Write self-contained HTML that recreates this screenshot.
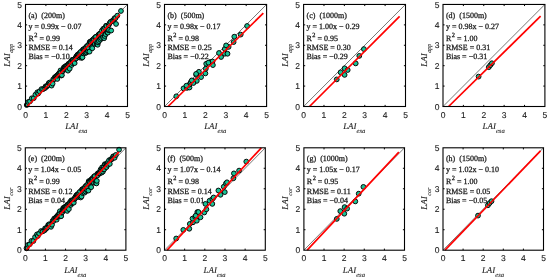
<!DOCTYPE html><html><head><meta charset="utf-8"><style>html,body{margin:0;padding:0;background:#fff;overflow:hidden}svg{display:block}text{text-rendering:geometricPrecision}.tk{font-family:"Liberation Sans",Arial,sans-serif;font-size:8.50px;fill:#1a1a1a;stroke:#1a1a1a;stroke-width:0.1px}.an{font-family:"Liberation Serif","Times New Roman",serif;font-size:8.00px;fill:#1e1e1e;stroke:#1e1e1e;stroke-width:0.28px}.lb{font-family:"Liberation Serif","Times New Roman",serif;font-style:italic;fill:#1a1a1a;stroke:#1a1a1a;stroke-width:0.1px}.lb2{font-family:"Liberation Serif","Times New Roman",serif;font-style:italic;fill:#1a1a1a;stroke:#1a1a1a;stroke-width:1px}</style></head><body>
<svg width="550" height="280" viewBox="0 0 550 280">
<g><line x1="25.50" y1="106.50" x2="127.50" y2="4.45" stroke="#555" stroke-width="0.8"/><g fill="#18c496" stroke="#000" stroke-width="0.95"><circle cx="26.72" cy="105.03" r="2.40"/><circle cx="28.29" cy="102.01" r="2.40"/><circle cx="30.00" cy="101.35" r="2.40"/><circle cx="31.76" cy="98.31" r="2.40"/><circle cx="33.70" cy="98.19" r="2.40"/><circle cx="35.40" cy="94.71" r="2.40"/><circle cx="37.31" cy="92.31" r="2.40"/><circle cx="38.20" cy="93.53" r="2.40"/><circle cx="39.59" cy="91.32" r="2.40"/><circle cx="41.52" cy="89.06" r="2.40"/><circle cx="43.12" cy="89.18" r="2.40"/><circle cx="45.01" cy="88.11" r="2.40"/><circle cx="45.57" cy="86.36" r="2.40"/><circle cx="46.36" cy="86.73" r="2.40"/><circle cx="47.02" cy="86.09" r="2.40"/><circle cx="47.86" cy="85.31" r="2.40"/><circle cx="48.72" cy="83.24" r="2.40"/><circle cx="49.22" cy="83.12" r="2.40"/><circle cx="49.85" cy="82.41" r="2.40"/><circle cx="50.53" cy="83.49" r="2.40"/><circle cx="51.61" cy="85.63" r="2.40"/><circle cx="52.60" cy="83.56" r="2.40"/><circle cx="53.20" cy="79.30" r="2.40"/><circle cx="54.21" cy="79.19" r="2.40"/><circle cx="54.79" cy="77.23" r="2.40"/><circle cx="55.68" cy="76.99" r="2.40"/><circle cx="56.25" cy="76.46" r="2.40"/><circle cx="56.50" cy="76.50" r="2.40"/><circle cx="57.03" cy="75.49" r="2.40"/><circle cx="57.34" cy="78.96" r="2.40"/><circle cx="57.65" cy="75.68" r="2.40"/><circle cx="58.22" cy="74.68" r="2.40"/><circle cx="58.75" cy="73.66" r="2.40"/><circle cx="59.09" cy="74.32" r="2.40"/><circle cx="59.65" cy="73.36" r="2.40"/><circle cx="60.07" cy="72.38" r="2.40"/><circle cx="60.53" cy="70.40" r="2.40"/><circle cx="60.85" cy="72.40" r="2.40"/><circle cx="61.40" cy="75.53" r="2.40"/><circle cx="61.87" cy="75.15" r="2.40"/><circle cx="62.43" cy="71.37" r="2.40"/><circle cx="62.96" cy="70.89" r="2.40"/><circle cx="63.31" cy="69.37" r="2.40"/><circle cx="63.67" cy="68.52" r="2.40"/><circle cx="63.97" cy="67.27" r="2.40"/><circle cx="64.26" cy="68.90" r="2.40"/><circle cx="64.53" cy="67.42" r="2.40"/><circle cx="64.87" cy="68.01" r="2.40"/><circle cx="65.31" cy="66.65" r="2.40"/><circle cx="65.56" cy="67.31" r="2.40"/><circle cx="66.02" cy="66.05" r="2.40"/><circle cx="66.38" cy="65.73" r="2.40"/><circle cx="66.72" cy="67.33" r="2.40"/><circle cx="67.24" cy="66.13" r="2.40"/><circle cx="67.64" cy="65.29" r="2.40"/><circle cx="67.99" cy="70.67" r="2.40"/><circle cx="68.39" cy="63.83" r="2.40"/><circle cx="68.86" cy="64.00" r="2.40"/><circle cx="69.13" cy="64.29" r="2.40"/><circle cx="69.69" cy="68.66" r="2.40"/><circle cx="69.94" cy="63.49" r="2.40"/><circle cx="70.43" cy="62.71" r="2.40"/><circle cx="70.95" cy="61.37" r="2.40"/><circle cx="71.20" cy="62.40" r="2.40"/><circle cx="71.70" cy="64.97" r="2.40"/><circle cx="72.07" cy="59.99" r="2.40"/><circle cx="72.50" cy="63.14" r="2.40"/><circle cx="72.75" cy="59.97" r="2.40"/><circle cx="73.01" cy="60.59" r="2.40"/><circle cx="73.31" cy="60.10" r="2.40"/><circle cx="73.87" cy="61.99" r="2.40"/><circle cx="74.18" cy="61.81" r="2.40"/><circle cx="74.67" cy="63.12" r="2.40"/><circle cx="75.22" cy="58.60" r="2.40"/><circle cx="75.77" cy="57.40" r="2.40"/><circle cx="76.13" cy="58.49" r="2.40"/><circle cx="76.49" cy="56.28" r="2.40"/><circle cx="76.91" cy="56.19" r="2.40"/><circle cx="77.40" cy="55.14" r="2.40"/><circle cx="77.68" cy="54.75" r="2.40"/><circle cx="78.17" cy="54.52" r="2.40"/><circle cx="78.68" cy="54.32" r="2.40"/><circle cx="79.20" cy="53.86" r="2.40"/><circle cx="79.46" cy="57.47" r="2.40"/><circle cx="80.01" cy="52.64" r="2.40"/><circle cx="80.29" cy="53.06" r="2.40"/><circle cx="80.64" cy="56.73" r="2.40"/><circle cx="81.09" cy="51.49" r="2.40"/><circle cx="81.63" cy="57.97" r="2.40"/><circle cx="81.99" cy="56.63" r="2.40"/><circle cx="82.53" cy="57.28" r="2.40"/><circle cx="82.96" cy="49.67" r="2.40"/><circle cx="83.30" cy="49.38" r="2.40"/><circle cx="83.65" cy="53.40" r="2.40"/><circle cx="83.96" cy="49.50" r="2.40"/><circle cx="84.23" cy="48.91" r="2.40"/><circle cx="84.52" cy="52.37" r="2.40"/><circle cx="84.99" cy="48.61" r="2.40"/><circle cx="85.56" cy="53.04" r="2.40"/><circle cx="85.86" cy="47.64" r="2.40"/><circle cx="86.12" cy="47.04" r="2.40"/><circle cx="86.68" cy="52.36" r="2.40"/><circle cx="87.10" cy="45.93" r="2.40"/><circle cx="87.48" cy="45.97" r="2.40"/><circle cx="87.80" cy="51.09" r="2.40"/><circle cx="88.24" cy="51.22" r="2.40"/><circle cx="88.76" cy="47.98" r="2.40"/><circle cx="89.15" cy="43.81" r="2.40"/><circle cx="89.53" cy="51.65" r="2.40"/><circle cx="89.79" cy="41.80" r="2.40"/><circle cx="90.34" cy="42.63" r="2.40"/><circle cx="90.59" cy="42.08" r="2.40"/><circle cx="91.00" cy="41.86" r="2.40"/><circle cx="91.52" cy="47.76" r="2.40"/><circle cx="91.81" cy="40.59" r="2.40"/><circle cx="92.29" cy="48.27" r="2.40"/><circle cx="92.84" cy="39.70" r="2.40"/><circle cx="93.29" cy="40.66" r="2.40"/><circle cx="93.80" cy="38.75" r="2.40"/><circle cx="94.08" cy="39.68" r="2.40"/><circle cx="94.46" cy="42.91" r="2.40"/><circle cx="94.76" cy="43.98" r="2.40"/><circle cx="95.28" cy="37.17" r="2.40"/><circle cx="95.62" cy="40.57" r="2.40"/><circle cx="96.01" cy="36.79" r="2.40"/><circle cx="96.58" cy="44.02" r="2.40"/><circle cx="97.10" cy="42.56" r="2.40"/><circle cx="97.67" cy="44.77" r="2.40"/><circle cx="98.06" cy="42.39" r="2.40"/><circle cx="98.46" cy="34.76" r="2.40"/><circle cx="98.95" cy="41.07" r="2.40"/><circle cx="99.35" cy="34.07" r="2.40"/><circle cx="99.69" cy="33.83" r="2.40"/><circle cx="100.07" cy="34.04" r="2.40"/><circle cx="100.36" cy="39.64" r="2.40"/><circle cx="100.73" cy="36.60" r="2.40"/><circle cx="101.29" cy="38.16" r="2.40"/><circle cx="101.85" cy="30.65" r="2.40"/><circle cx="102.30" cy="35.82" r="2.40"/><circle cx="102.71" cy="35.42" r="2.40"/><circle cx="103.06" cy="37.38" r="2.40"/><circle cx="103.34" cy="28.75" r="2.40"/><circle cx="103.67" cy="29.94" r="2.40"/><circle cx="104.17" cy="38.24" r="2.40"/><circle cx="104.70" cy="36.00" r="2.40"/><circle cx="105.06" cy="27.85" r="2.40"/><circle cx="105.56" cy="34.11" r="2.40"/><circle cx="106.06" cy="25.74" r="2.40"/><circle cx="106.53" cy="25.98" r="2.40"/><circle cx="106.99" cy="32.11" r="2.40"/><circle cx="107.49" cy="32.27" r="2.40"/><circle cx="107.85" cy="32.64" r="2.40"/><circle cx="108.33" cy="30.06" r="2.40"/><circle cx="108.66" cy="25.26" r="2.40"/><circle cx="109.06" cy="29.89" r="2.40"/><circle cx="109.56" cy="23.33" r="2.40"/><circle cx="110.50" cy="21.87" r="2.40"/><circle cx="111.18" cy="30.54" r="2.40"/><circle cx="112.29" cy="20.85" r="2.40"/><circle cx="113.20" cy="20.66" r="2.40"/><circle cx="114.07" cy="19.48" r="2.40"/><circle cx="114.57" cy="18.16" r="2.40"/><circle cx="115.42" cy="18.17" r="2.40"/><circle cx="116.07" cy="23.96" r="2.40"/><circle cx="120.97" cy="10.98" r="2.40"/><circle cx="117.30" cy="15.68" r="2.40"/></g><line x1="26.94" y1="106.50" x2="119.95" y2="14.38" stroke="#f00" stroke-width="1.7"/><rect x="25.50" y="4.45" width="102.00" height="102.05" fill="none" stroke="#000" stroke-width="1.1"/><path d="M45.90 106.50v-1.6M45.90 4.45v1.6M25.50 86.09h1.6M127.50 86.09h-1.6" stroke="#000" stroke-width="1"/><path d="M66.30 106.50v-1.6M66.30 4.45v1.6M25.50 65.68h1.6M127.50 65.68h-1.6" stroke="#000" stroke-width="1"/><path d="M86.70 106.50v-1.6M86.70 4.45v1.6M25.50 45.27h1.6M127.50 45.27h-1.6" stroke="#000" stroke-width="1"/><path d="M107.10 106.50v-1.6M107.10 4.45v1.6M25.50 24.86h1.6M127.50 24.86h-1.6" stroke="#000" stroke-width="1"/><text class="tk" x="25.50" y="117.70" text-anchor="middle">0</text><text class="tk" x="21.90" y="109.70" text-anchor="end">0</text><text class="tk" x="45.90" y="117.70" text-anchor="middle">1</text><text class="tk" x="21.90" y="89.29" text-anchor="end">1</text><text class="tk" x="66.30" y="117.70" text-anchor="middle">2</text><text class="tk" x="21.90" y="68.88" text-anchor="end">2</text><text class="tk" x="86.70" y="117.70" text-anchor="middle">3</text><text class="tk" x="21.90" y="48.47" text-anchor="end">3</text><text class="tk" x="107.10" y="117.70" text-anchor="middle">4</text><text class="tk" x="21.90" y="28.06" text-anchor="end">4</text><text class="tk" x="127.50" y="117.70" text-anchor="middle">5</text><text class="tk" x="21.90" y="7.65" text-anchor="end">5</text><text class="an" x="28.40" y="17.75">(a)&#160; (200m)</text><text class="an" x="28.40" y="28.55">y = 0.99x − 0.07</text><text class="an" x="28.40" y="40.85">R<tspan dx="0.5" dy="-3.8" font-size="6.4">2</tspan><tspan dy="3.8"> = 0.99</tspan></text><text class="an" x="28.40" y="50.15">RMSE = 0.14</text><text class="an" x="28.40" y="59.25">Bias = −0.10</text><text class="lb" x="76.20" y="128.80" text-anchor="middle" font-size="8.9">LAI<tspan dy="4.2" font-size="6.6">esa</tspan></text><text class="lb2" transform="translate(9.90,55.18) rotate(-90) scale(0.1)" text-anchor="middle" font-size="90">LAI<tspan dx="6" dy="35" font-size="60">app</tspan></text></g>
<g><line x1="164.50" y1="106.50" x2="266.60" y2="4.45" stroke="#555" stroke-width="0.8"/><g fill="#18c496" stroke="#000" stroke-width="0.95"><circle cx="176.30" cy="96.30" r="2.40"/><circle cx="183.50" cy="88.40" r="2.40"/><circle cx="187.00" cy="87.90" r="2.40"/><circle cx="189.50" cy="87.50" r="2.40"/><circle cx="189.30" cy="84.60" r="2.40"/><circle cx="190.80" cy="82.10" r="2.40"/><circle cx="193.00" cy="80.90" r="2.40"/><circle cx="196.80" cy="80.90" r="2.40"/><circle cx="196.25" cy="75.00" r="2.40"/><circle cx="201.10" cy="77.10" r="2.40"/><circle cx="198.90" cy="71.80" r="2.40"/><circle cx="205.40" cy="73.40" r="2.40"/><circle cx="206.20" cy="63.80" r="2.40"/><circle cx="210.30" cy="62.00" r="2.40"/><circle cx="212.50" cy="61.50" r="2.40"/><circle cx="212.90" cy="65.10" r="2.40"/><circle cx="205.80" cy="68.70" r="2.40"/><circle cx="221.10" cy="57.00" r="2.40"/><circle cx="219.00" cy="53.00" r="2.40"/><circle cx="224.80" cy="53.75" r="2.40"/><circle cx="227.50" cy="53.75" r="2.40"/><circle cx="224.80" cy="48.90" r="2.40"/><circle cx="228.60" cy="46.90" r="2.40"/><circle cx="226.10" cy="45.40" r="2.40"/><circle cx="233.60" cy="42.10" r="2.40"/><circle cx="234.30" cy="36.70" r="2.40"/><circle cx="240.70" cy="34.60" r="2.40"/><circle cx="247.10" cy="26.00" r="2.40"/><circle cx="193.40" cy="83.00" r="2.40"/><circle cx="186.40" cy="85.70" r="2.40"/><circle cx="191.80" cy="80.40" r="2.40"/><circle cx="196.10" cy="73.90" r="2.40"/><circle cx="208.40" cy="62.70" r="2.40"/></g><line x1="168.04" y1="106.50" x2="263.33" y2="13.16" stroke="#f00" stroke-width="1.7"/><rect x="164.50" y="4.45" width="102.10" height="102.05" fill="none" stroke="#000" stroke-width="1.1"/><path d="M184.92 106.50v-1.6M184.92 4.45v1.6M164.50 86.09h1.6M266.60 86.09h-1.6" stroke="#000" stroke-width="1"/><path d="M205.34 106.50v-1.6M205.34 4.45v1.6M164.50 65.68h1.6M266.60 65.68h-1.6" stroke="#000" stroke-width="1"/><path d="M225.76 106.50v-1.6M225.76 4.45v1.6M164.50 45.27h1.6M266.60 45.27h-1.6" stroke="#000" stroke-width="1"/><path d="M246.18 106.50v-1.6M246.18 4.45v1.6M164.50 24.86h1.6M266.60 24.86h-1.6" stroke="#000" stroke-width="1"/><text class="tk" x="164.50" y="117.70" text-anchor="middle">0</text><text class="tk" x="160.90" y="109.70" text-anchor="end">0</text><text class="tk" x="184.92" y="117.70" text-anchor="middle">1</text><text class="tk" x="160.90" y="89.29" text-anchor="end">1</text><text class="tk" x="205.34" y="117.70" text-anchor="middle">2</text><text class="tk" x="160.90" y="68.88" text-anchor="end">2</text><text class="tk" x="225.76" y="117.70" text-anchor="middle">3</text><text class="tk" x="160.90" y="48.47" text-anchor="end">3</text><text class="tk" x="246.18" y="117.70" text-anchor="middle">4</text><text class="tk" x="160.90" y="28.06" text-anchor="end">4</text><text class="tk" x="266.60" y="117.70" text-anchor="middle">5</text><text class="tk" x="160.90" y="7.65" text-anchor="end">5</text><text class="an" x="167.40" y="17.75">(b)&#160; (500m)</text><text class="an" x="167.40" y="28.55">y = 0.98x − 0.17</text><text class="an" x="167.40" y="40.85">R<tspan dx="0.5" dy="-3.8" font-size="6.4">2</tspan><tspan dy="3.8"> = 0.98</tspan></text><text class="an" x="167.40" y="50.15">RMSE = 0.25</text><text class="an" x="167.40" y="59.25">Bias = −0.22</text><text class="lb" x="215.25" y="128.80" text-anchor="middle" font-size="8.9">LAI<tspan dy="4.2" font-size="6.6">esa</tspan></text><text class="lb2" transform="translate(148.90,55.18) rotate(-90) scale(0.1)" text-anchor="middle" font-size="90">LAI<tspan dx="6" dy="35" font-size="60">app</tspan></text></g>
<g><line x1="303.60" y1="106.50" x2="405.50" y2="4.45" stroke="#555" stroke-width="0.8"/><g fill="#18c496" stroke="#000" stroke-width="0.95"><circle cx="363.90" cy="49.10" r="2.40"/><circle cx="359.30" cy="55.90" r="2.40"/><circle cx="355.70" cy="63.40" r="2.40"/><circle cx="344.60" cy="68.30" r="2.40"/><circle cx="347.70" cy="70.00" r="2.40"/><circle cx="340.60" cy="72.30" r="2.40"/><circle cx="344.60" cy="74.90" r="2.40"/><circle cx="336.75" cy="79.40" r="2.40"/></g><line x1="309.51" y1="106.50" x2="399.59" y2="16.29" stroke="#f00" stroke-width="1.7"/><rect x="303.60" y="4.45" width="101.90" height="102.05" fill="none" stroke="#000" stroke-width="1.1"/><path d="M323.98 106.50v-1.6M323.98 4.45v1.6M303.60 86.09h1.6M405.50 86.09h-1.6" stroke="#000" stroke-width="1"/><path d="M344.36 106.50v-1.6M344.36 4.45v1.6M303.60 65.68h1.6M405.50 65.68h-1.6" stroke="#000" stroke-width="1"/><path d="M364.74 106.50v-1.6M364.74 4.45v1.6M303.60 45.27h1.6M405.50 45.27h-1.6" stroke="#000" stroke-width="1"/><path d="M385.12 106.50v-1.6M385.12 4.45v1.6M303.60 24.86h1.6M405.50 24.86h-1.6" stroke="#000" stroke-width="1"/><text class="tk" x="303.60" y="117.70" text-anchor="middle">0</text><text class="tk" x="300.00" y="109.70" text-anchor="end">0</text><text class="tk" x="323.98" y="117.70" text-anchor="middle">1</text><text class="tk" x="300.00" y="89.29" text-anchor="end">1</text><text class="tk" x="344.36" y="117.70" text-anchor="middle">2</text><text class="tk" x="300.00" y="68.88" text-anchor="end">2</text><text class="tk" x="364.74" y="117.70" text-anchor="middle">3</text><text class="tk" x="300.00" y="48.47" text-anchor="end">3</text><text class="tk" x="385.12" y="117.70" text-anchor="middle">4</text><text class="tk" x="300.00" y="28.06" text-anchor="end">4</text><text class="tk" x="405.50" y="117.70" text-anchor="middle">5</text><text class="tk" x="300.00" y="7.65" text-anchor="end">5</text><text class="an" x="306.50" y="17.75">(c)&#160; (1000m)</text><text class="an" x="306.50" y="28.55">y = 1.00x − 0.29</text><text class="an" x="306.50" y="40.85">R<tspan dx="0.5" dy="-3.8" font-size="6.4">2</tspan><tspan dy="3.8"> = 0.95</tspan></text><text class="an" x="306.50" y="50.15">RMSE = 0.30</text><text class="an" x="306.50" y="59.25">Bias = −0.29</text><text class="lb" x="354.25" y="128.80" text-anchor="middle" font-size="8.9">LAI<tspan dy="4.2" font-size="6.6">esa</tspan></text><text class="lb2" transform="translate(288.00,55.18) rotate(-90) scale(0.1)" text-anchor="middle" font-size="90">LAI<tspan dx="6" dy="35" font-size="60">app</tspan></text></g>
<g><line x1="443.00" y1="106.50" x2="544.90" y2="4.45" stroke="#555" stroke-width="0.8"/><g fill="#18c496" stroke="#000" stroke-width="0.95"><circle cx="478.60" cy="76.60" r="2.40"/><circle cx="488.75" cy="67.20" r="2.40"/><circle cx="490.30" cy="65.20" r="2.40"/><circle cx="491.90" cy="63.25" r="2.40"/></g><line x1="448.61" y1="106.50" x2="540.62" y2="16.20" stroke="#f00" stroke-width="1.7"/><rect x="443.00" y="4.45" width="101.90" height="102.05" fill="none" stroke="#000" stroke-width="1.1"/><path d="M463.38 106.50v-1.6M463.38 4.45v1.6M443.00 86.09h1.6M544.90 86.09h-1.6" stroke="#000" stroke-width="1"/><path d="M483.76 106.50v-1.6M483.76 4.45v1.6M443.00 65.68h1.6M544.90 65.68h-1.6" stroke="#000" stroke-width="1"/><path d="M504.14 106.50v-1.6M504.14 4.45v1.6M443.00 45.27h1.6M544.90 45.27h-1.6" stroke="#000" stroke-width="1"/><path d="M524.52 106.50v-1.6M524.52 4.45v1.6M443.00 24.86h1.6M544.90 24.86h-1.6" stroke="#000" stroke-width="1"/><text class="tk" x="443.00" y="117.70" text-anchor="middle">0</text><text class="tk" x="439.40" y="109.70" text-anchor="end">0</text><text class="tk" x="463.38" y="117.70" text-anchor="middle">1</text><text class="tk" x="439.40" y="89.29" text-anchor="end">1</text><text class="tk" x="483.76" y="117.70" text-anchor="middle">2</text><text class="tk" x="439.40" y="68.88" text-anchor="end">2</text><text class="tk" x="504.14" y="117.70" text-anchor="middle">3</text><text class="tk" x="439.40" y="48.47" text-anchor="end">3</text><text class="tk" x="524.52" y="117.70" text-anchor="middle">4</text><text class="tk" x="439.40" y="28.06" text-anchor="end">4</text><text class="tk" x="544.90" y="117.70" text-anchor="middle">5</text><text class="tk" x="439.40" y="7.65" text-anchor="end">5</text><text class="an" x="445.90" y="17.75">(d)&#160; (1500m)</text><text class="an" x="445.90" y="28.55">y = 0.98x − 0.27</text><text class="an" x="445.90" y="40.85">R<tspan dx="0.5" dy="-3.8" font-size="6.4">2</tspan><tspan dy="3.8"> = 1.00</tspan></text><text class="an" x="445.90" y="50.15">RMSE = 0.31</text><text class="an" x="445.90" y="59.25">Bias = −0.31</text><text class="lb" x="493.65" y="128.80" text-anchor="middle" font-size="8.9">LAI<tspan dy="4.2" font-size="6.6">esa</tspan></text><text class="lb2" transform="translate(427.40,55.18) rotate(-90) scale(0.1)" text-anchor="middle" font-size="90">LAI<tspan dx="6" dy="35" font-size="60">app</tspan></text></g>
<g><line x1="25.30" y1="250.20" x2="125.90" y2="147.80" stroke="#555" stroke-width="0.8"/><g fill="#18c496" stroke="#000" stroke-width="0.95"><circle cx="26.51" cy="248.31" r="2.40"/><circle cx="28.05" cy="244.88" r="2.40"/><circle cx="29.73" cy="244.31" r="2.40"/><circle cx="31.48" cy="240.88" r="2.40"/><circle cx="33.38" cy="241.00" r="2.40"/><circle cx="35.06" cy="237.04" r="2.40"/><circle cx="36.95" cy="234.40" r="2.40"/><circle cx="37.82" cy="235.99" r="2.40"/><circle cx="39.19" cy="233.50" r="2.40"/><circle cx="41.10" cy="231.04" r="2.40"/><circle cx="42.68" cy="231.41" r="2.40"/><circle cx="44.54" cy="230.37" r="2.40"/><circle cx="45.09" cy="228.33" r="2.40"/><circle cx="45.88" cy="228.89" r="2.40"/><circle cx="46.52" cy="228.20" r="2.40"/><circle cx="47.35" cy="227.37" r="2.40"/><circle cx="48.21" cy="224.99" r="2.40"/><circle cx="48.70" cy="224.92" r="2.40"/><circle cx="49.32" cy="224.15" r="2.40"/><circle cx="49.98" cy="224.77" r="2.40"/><circle cx="51.05" cy="226.84" r="2.40"/><circle cx="52.03" cy="224.71" r="2.40"/><circle cx="52.62" cy="220.86" r="2.40"/><circle cx="53.61" cy="220.89" r="2.40"/><circle cx="54.18" cy="218.61" r="2.40"/><circle cx="55.06" cy="218.46" r="2.40"/><circle cx="55.63" cy="217.91" r="2.40"/><circle cx="55.87" cy="217.99" r="2.40"/><circle cx="56.39" cy="216.85" r="2.40"/><circle cx="56.70" cy="219.70" r="2.40"/><circle cx="57.01" cy="217.18" r="2.40"/><circle cx="57.57" cy="216.05" r="2.40"/><circle cx="58.09" cy="214.91" r="2.40"/><circle cx="58.43" cy="215.74" r="2.40"/><circle cx="58.98" cy="214.67" r="2.40"/><circle cx="59.39" cy="213.56" r="2.40"/><circle cx="59.85" cy="211.24" r="2.40"/><circle cx="60.16" cy="213.69" r="2.40"/><circle cx="60.70" cy="216.28" r="2.40"/><circle cx="61.17" cy="216.15" r="2.40"/><circle cx="61.72" cy="212.68" r="2.40"/><circle cx="62.25" cy="212.20" r="2.40"/><circle cx="62.59" cy="210.42" r="2.40"/><circle cx="62.95" cy="209.44" r="2.40"/><circle cx="63.24" cy="207.98" r="2.40"/><circle cx="63.53" cy="209.99" r="2.40"/><circle cx="63.79" cy="208.25" r="2.40"/><circle cx="64.13" cy="209.01" r="2.40"/><circle cx="64.57" cy="207.43" r="2.40"/><circle cx="64.81" cy="208.27" r="2.40"/><circle cx="65.27" cy="206.82" r="2.40"/><circle cx="65.62" cy="206.48" r="2.40"/><circle cx="65.96" cy="208.00" r="2.40"/><circle cx="66.46" cy="207.09" r="2.40"/><circle cx="66.86" cy="206.14" r="2.40"/><circle cx="67.20" cy="210.91" r="2.40"/><circle cx="67.60" cy="204.50" r="2.40"/><circle cx="68.07" cy="204.77" r="2.40"/><circle cx="68.33" cy="205.16" r="2.40"/><circle cx="68.88" cy="209.07" r="2.40"/><circle cx="69.13" cy="204.32" r="2.40"/><circle cx="69.61" cy="203.46" r="2.40"/><circle cx="70.13" cy="201.92" r="2.40"/><circle cx="70.38" cy="203.19" r="2.40"/><circle cx="70.87" cy="204.94" r="2.40"/><circle cx="71.23" cy="200.43" r="2.40"/><circle cx="71.66" cy="203.23" r="2.40"/><circle cx="71.90" cy="200.50" r="2.40"/><circle cx="72.16" cy="201.29" r="2.40"/><circle cx="72.46" cy="200.74" r="2.40"/><circle cx="73.01" cy="202.38" r="2.40"/><circle cx="73.31" cy="201.73" r="2.40"/><circle cx="73.80" cy="202.71" r="2.40"/><circle cx="74.34" cy="199.22" r="2.40"/><circle cx="74.88" cy="197.85" r="2.40"/><circle cx="75.23" cy="198.33" r="2.40"/><circle cx="75.59" cy="196.61" r="2.40"/><circle cx="76.00" cy="196.57" r="2.40"/><circle cx="76.49" cy="195.37" r="2.40"/><circle cx="76.77" cy="194.95" r="2.40"/><circle cx="77.25" cy="194.74" r="2.40"/><circle cx="77.75" cy="194.57" r="2.40"/><circle cx="78.27" cy="194.09" r="2.40"/><circle cx="78.52" cy="196.95" r="2.40"/><circle cx="79.07" cy="192.75" r="2.40"/><circle cx="79.34" cy="193.30" r="2.40"/><circle cx="79.69" cy="196.46" r="2.40"/><circle cx="80.13" cy="191.53" r="2.40"/><circle cx="80.66" cy="197.47" r="2.40"/><circle cx="81.01" cy="195.88" r="2.40"/><circle cx="81.55" cy="196.51" r="2.40"/><circle cx="81.97" cy="189.61" r="2.40"/><circle cx="82.31" cy="189.31" r="2.40"/><circle cx="82.65" cy="193.06" r="2.40"/><circle cx="82.95" cy="189.55" r="2.40"/><circle cx="83.22" cy="188.89" r="2.40"/><circle cx="83.51" cy="191.86" r="2.40"/><circle cx="83.97" cy="188.63" r="2.40"/><circle cx="84.53" cy="192.65" r="2.40"/><circle cx="84.83" cy="187.60" r="2.40"/><circle cx="85.08" cy="186.92" r="2.40"/><circle cx="85.64" cy="191.47" r="2.40"/><circle cx="86.06" cy="185.72" r="2.40"/><circle cx="86.43" cy="185.82" r="2.40"/><circle cx="86.75" cy="189.99" r="2.40"/><circle cx="87.18" cy="190.12" r="2.40"/><circle cx="87.69" cy="187.14" r="2.40"/><circle cx="88.08" cy="183.48" r="2.40"/><circle cx="88.45" cy="190.57" r="2.40"/><circle cx="88.71" cy="181.15" r="2.40"/><circle cx="89.25" cy="182.23" r="2.40"/><circle cx="89.50" cy="181.61" r="2.40"/><circle cx="89.90" cy="181.41" r="2.40"/><circle cx="90.41" cy="186.81" r="2.40"/><circle cx="90.70" cy="180.00" r="2.40"/><circle cx="91.17" cy="187.17" r="2.40"/><circle cx="91.72" cy="179.08" r="2.40"/><circle cx="92.16" cy="180.30" r="2.40"/><circle cx="92.66" cy="178.07" r="2.40"/><circle cx="92.93" cy="179.23" r="2.40"/><circle cx="93.32" cy="181.90" r="2.40"/><circle cx="93.61" cy="182.67" r="2.40"/><circle cx="94.12" cy="176.39" r="2.40"/><circle cx="94.46" cy="179.76" r="2.40"/><circle cx="94.84" cy="176.04" r="2.40"/><circle cx="95.41" cy="182.79" r="2.40"/><circle cx="95.92" cy="181.10" r="2.40"/><circle cx="96.48" cy="183.42" r="2.40"/><circle cx="96.86" cy="180.88" r="2.40"/><circle cx="97.26" cy="173.96" r="2.40"/><circle cx="97.74" cy="175.30" r="2.40"/><circle cx="98.14" cy="173.27" r="2.40"/><circle cx="98.47" cy="173.03" r="2.40"/><circle cx="98.84" cy="173.33" r="2.40"/><circle cx="99.13" cy="173.58" r="2.40"/><circle cx="99.49" cy="173.38" r="2.40"/><circle cx="100.05" cy="173.04" r="2.40"/><circle cx="100.60" cy="169.51" r="2.40"/><circle cx="101.05" cy="171.27" r="2.40"/><circle cx="101.45" cy="170.50" r="2.40"/><circle cx="101.80" cy="172.54" r="2.40"/><circle cx="102.07" cy="167.44" r="2.40"/><circle cx="102.40" cy="168.93" r="2.40"/><circle cx="102.89" cy="171.62" r="2.40"/><circle cx="103.41" cy="169.56" r="2.40"/><circle cx="103.77" cy="166.62" r="2.40"/><circle cx="104.26" cy="169.25" r="2.40"/><circle cx="104.76" cy="164.22" r="2.40"/><circle cx="105.22" cy="164.59" r="2.40"/><circle cx="105.68" cy="166.56" r="2.40"/><circle cx="106.16" cy="166.87" r="2.40"/><circle cx="106.52" cy="167.01" r="2.40"/><circle cx="106.99" cy="163.76" r="2.40"/><circle cx="107.32" cy="164.04" r="2.40"/><circle cx="107.72" cy="164.80" r="2.40"/><circle cx="108.21" cy="161.85" r="2.40"/><circle cx="109.13" cy="160.22" r="2.40"/><circle cx="109.81" cy="163.91" r="2.40"/><circle cx="110.90" cy="159.26" r="2.40"/><circle cx="111.80" cy="159.18" r="2.40"/><circle cx="112.66" cy="157.88" r="2.40"/><circle cx="113.15" cy="156.37" r="2.40"/><circle cx="113.98" cy="156.50" r="2.40"/><circle cx="114.63" cy="157.76" r="2.40"/><circle cx="119.06" cy="149.64" r="2.40"/><circle cx="115.84" cy="154.97" r="2.40"/></g><line x1="26.27" y1="250.20" x2="118.86" y2="152.18" stroke="#f00" stroke-width="1.7"/><rect x="25.30" y="147.80" width="100.60" height="102.40" fill="none" stroke="#000" stroke-width="1.1"/><path d="M45.42 250.20v-1.6M45.42 147.80v1.6M25.30 229.72h1.6M125.90 229.72h-1.6" stroke="#000" stroke-width="1"/><path d="M65.54 250.20v-1.6M65.54 147.80v1.6M25.30 209.24h1.6M125.90 209.24h-1.6" stroke="#000" stroke-width="1"/><path d="M85.66 250.20v-1.6M85.66 147.80v1.6M25.30 188.76h1.6M125.90 188.76h-1.6" stroke="#000" stroke-width="1"/><path d="M105.78 250.20v-1.6M105.78 147.80v1.6M25.30 168.28h1.6M125.90 168.28h-1.6" stroke="#000" stroke-width="1"/><text class="tk" x="25.30" y="261.40" text-anchor="middle">0</text><text class="tk" x="21.70" y="253.40" text-anchor="end">0</text><text class="tk" x="45.42" y="261.40" text-anchor="middle">1</text><text class="tk" x="21.70" y="232.92" text-anchor="end">1</text><text class="tk" x="65.54" y="261.40" text-anchor="middle">2</text><text class="tk" x="21.70" y="212.44" text-anchor="end">2</text><text class="tk" x="85.66" y="261.40" text-anchor="middle">3</text><text class="tk" x="21.70" y="191.96" text-anchor="end">3</text><text class="tk" x="105.78" y="261.40" text-anchor="middle">4</text><text class="tk" x="21.70" y="171.48" text-anchor="end">4</text><text class="tk" x="125.90" y="261.40" text-anchor="middle">5</text><text class="tk" x="21.70" y="151.00" text-anchor="end">5</text><text class="an" x="28.20" y="161.10">(e)&#160; (200m)</text><text class="an" x="28.20" y="171.90">y = 1.04x − 0.05</text><text class="an" x="28.20" y="184.20">R<tspan dx="0.5" dy="-3.8" font-size="6.4">2</tspan><tspan dy="3.8"> = 0.99</tspan></text><text class="an" x="28.20" y="193.50">RMSE = 0.12</text><text class="an" x="28.20" y="202.60">Bias = 0.04</text><text class="lb" x="75.30" y="272.50" text-anchor="middle" font-size="8.9">LAI<tspan dy="4.2" font-size="6.6">esa</tspan></text><text class="lb2" transform="translate(9.70,198.70) rotate(-90) scale(0.1)" text-anchor="middle" font-size="90">LAI<tspan dx="6" dy="35" font-size="60">cor</tspan></text></g>
<g><line x1="164.50" y1="250.20" x2="265.30" y2="147.80" stroke="#555" stroke-width="0.8"/><g fill="#18c496" stroke="#000" stroke-width="0.95"><circle cx="176.20" cy="238.50" r="2.40"/><circle cx="183.30" cy="229.90" r="2.40"/><circle cx="189.30" cy="228.75" r="2.40"/><circle cx="189.80" cy="223.90" r="2.40"/><circle cx="193.00" cy="222.30" r="2.40"/><circle cx="192.50" cy="218.60" r="2.40"/><circle cx="195.20" cy="217.00" r="2.40"/><circle cx="196.80" cy="220.70" r="2.40"/><circle cx="197.30" cy="212.10" r="2.40"/><circle cx="195.70" cy="215.70" r="2.40"/><circle cx="200.50" cy="217.30" r="2.40"/><circle cx="198.40" cy="212.00" r="2.40"/><circle cx="204.30" cy="212.50" r="2.40"/><circle cx="206.40" cy="209.30" r="2.40"/><circle cx="205.40" cy="203.90" r="2.40"/><circle cx="209.60" cy="200.70" r="2.40"/><circle cx="212.30" cy="199.10" r="2.40"/><circle cx="212.30" cy="203.90" r="2.40"/><circle cx="213.60" cy="197.50" r="2.40"/><circle cx="218.40" cy="190.50" r="2.40"/><circle cx="220.50" cy="194.80" r="2.40"/><circle cx="224.80" cy="192.10" r="2.40"/><circle cx="223.75" cy="186.75" r="2.40"/><circle cx="225.90" cy="183.50" r="2.40"/><circle cx="227.00" cy="182.30" r="2.40"/><circle cx="233.40" cy="178.30" r="2.40"/><circle cx="233.90" cy="173.40" r="2.40"/><circle cx="239.10" cy="170.60" r="2.40"/><circle cx="246.30" cy="161.60" r="2.40"/></g><line x1="167.14" y1="250.20" x2="261.34" y2="147.80" stroke="#f00" stroke-width="1.7"/><rect x="164.50" y="147.80" width="100.80" height="102.40" fill="none" stroke="#000" stroke-width="1.1"/><path d="M184.66 250.20v-1.6M184.66 147.80v1.6M164.50 229.72h1.6M265.30 229.72h-1.6" stroke="#000" stroke-width="1"/><path d="M204.82 250.20v-1.6M204.82 147.80v1.6M164.50 209.24h1.6M265.30 209.24h-1.6" stroke="#000" stroke-width="1"/><path d="M224.98 250.20v-1.6M224.98 147.80v1.6M164.50 188.76h1.6M265.30 188.76h-1.6" stroke="#000" stroke-width="1"/><path d="M245.14 250.20v-1.6M245.14 147.80v1.6M164.50 168.28h1.6M265.30 168.28h-1.6" stroke="#000" stroke-width="1"/><text class="tk" x="164.50" y="261.40" text-anchor="middle">0</text><text class="tk" x="160.90" y="253.40" text-anchor="end">0</text><text class="tk" x="184.66" y="261.40" text-anchor="middle">1</text><text class="tk" x="160.90" y="232.92" text-anchor="end">1</text><text class="tk" x="204.82" y="261.40" text-anchor="middle">2</text><text class="tk" x="160.90" y="212.44" text-anchor="end">2</text><text class="tk" x="224.98" y="261.40" text-anchor="middle">3</text><text class="tk" x="160.90" y="191.96" text-anchor="end">3</text><text class="tk" x="245.14" y="261.40" text-anchor="middle">4</text><text class="tk" x="160.90" y="171.48" text-anchor="end">4</text><text class="tk" x="265.30" y="261.40" text-anchor="middle">5</text><text class="tk" x="160.90" y="151.00" text-anchor="end">5</text><text class="an" x="167.40" y="161.10">(f)&#160; (500m)</text><text class="an" x="167.40" y="171.90">y = 1.07x − 0.14</text><text class="an" x="167.40" y="184.20">R<tspan dx="0.5" dy="-3.8" font-size="6.4">2</tspan><tspan dy="3.8"> = 0.98</tspan></text><text class="an" x="167.40" y="193.50">RMSE = 0.14</text><text class="an" x="167.40" y="202.60">Bias = 0.01</text><text class="lb" x="214.60" y="272.50" text-anchor="middle" font-size="8.9">LAI<tspan dy="4.2" font-size="6.6">esa</tspan></text><text class="lb2" transform="translate(148.90,198.70) rotate(-90) scale(0.1)" text-anchor="middle" font-size="90">LAI<tspan dx="6" dy="35" font-size="60">cor</tspan></text></g>
<g><line x1="303.90" y1="250.20" x2="404.50" y2="147.80" stroke="#555" stroke-width="0.8"/><g fill="#18c496" stroke="#000" stroke-width="0.95"><circle cx="363.40" cy="186.90" r="2.40"/><circle cx="358.70" cy="193.70" r="2.40"/><circle cx="355.30" cy="201.40" r="2.40"/><circle cx="344.60" cy="207.10" r="2.40"/><circle cx="347.10" cy="208.60" r="2.40"/><circle cx="340.30" cy="211.10" r="2.40"/><circle cx="344.30" cy="213.70" r="2.40"/><circle cx="336.80" cy="218.90" r="2.40"/></g><line x1="307.16" y1="250.20" x2="398.87" y2="152.18" stroke="#f00" stroke-width="1.7"/><rect x="303.90" y="147.80" width="100.60" height="102.40" fill="none" stroke="#000" stroke-width="1.1"/><path d="M324.02 250.20v-1.6M324.02 147.80v1.6M303.90 229.72h1.6M404.50 229.72h-1.6" stroke="#000" stroke-width="1"/><path d="M344.14 250.20v-1.6M344.14 147.80v1.6M303.90 209.24h1.6M404.50 209.24h-1.6" stroke="#000" stroke-width="1"/><path d="M364.26 250.20v-1.6M364.26 147.80v1.6M303.90 188.76h1.6M404.50 188.76h-1.6" stroke="#000" stroke-width="1"/><path d="M384.38 250.20v-1.6M384.38 147.80v1.6M303.90 168.28h1.6M404.50 168.28h-1.6" stroke="#000" stroke-width="1"/><text class="tk" x="303.90" y="261.40" text-anchor="middle">0</text><text class="tk" x="300.30" y="253.40" text-anchor="end">0</text><text class="tk" x="324.02" y="261.40" text-anchor="middle">1</text><text class="tk" x="300.30" y="232.92" text-anchor="end">1</text><text class="tk" x="344.14" y="261.40" text-anchor="middle">2</text><text class="tk" x="300.30" y="212.44" text-anchor="end">2</text><text class="tk" x="364.26" y="261.40" text-anchor="middle">3</text><text class="tk" x="300.30" y="191.96" text-anchor="end">3</text><text class="tk" x="384.38" y="261.40" text-anchor="middle">4</text><text class="tk" x="300.30" y="171.48" text-anchor="end">4</text><text class="tk" x="404.50" y="261.40" text-anchor="middle">5</text><text class="tk" x="300.30" y="151.00" text-anchor="end">5</text><text class="an" x="306.80" y="161.10">(g)&#160; (1000m)</text><text class="an" x="306.80" y="171.90">y = 1.05x − 0.17</text><text class="an" x="306.80" y="184.20">R<tspan dx="0.5" dy="-3.8" font-size="6.4">2</tspan><tspan dy="3.8"> = 0.95</tspan></text><text class="an" x="306.80" y="193.50">RMSE = 0.11</text><text class="an" x="306.80" y="202.60">Bias = −0.04</text><text class="lb" x="353.90" y="272.50" text-anchor="middle" font-size="8.9">LAI<tspan dy="4.2" font-size="6.6">esa</tspan></text><text class="lb2" transform="translate(288.30,198.70) rotate(-90) scale(0.1)" text-anchor="middle" font-size="90">LAI<tspan dx="6" dy="35" font-size="60">cor</tspan></text></g>
<g><line x1="443.00" y1="250.20" x2="543.50" y2="147.80" stroke="#555" stroke-width="0.8"/><g fill="#18c496" stroke="#000" stroke-width="0.95"><circle cx="478.00" cy="215.60" r="2.40"/><circle cx="487.90" cy="205.30" r="2.40"/><circle cx="489.60" cy="203.10" r="2.40"/><circle cx="491.50" cy="201.20" r="2.40"/></g><line x1="444.97" y1="250.20" x2="540.49" y2="150.93" stroke="#f00" stroke-width="1.7"/><rect x="443.00" y="147.80" width="100.50" height="102.40" fill="none" stroke="#000" stroke-width="1.1"/><path d="M463.10 250.20v-1.6M463.10 147.80v1.6M443.00 229.72h1.6M543.50 229.72h-1.6" stroke="#000" stroke-width="1"/><path d="M483.20 250.20v-1.6M483.20 147.80v1.6M443.00 209.24h1.6M543.50 209.24h-1.6" stroke="#000" stroke-width="1"/><path d="M503.30 250.20v-1.6M503.30 147.80v1.6M443.00 188.76h1.6M543.50 188.76h-1.6" stroke="#000" stroke-width="1"/><path d="M523.40 250.20v-1.6M523.40 147.80v1.6M443.00 168.28h1.6M543.50 168.28h-1.6" stroke="#000" stroke-width="1"/><text class="tk" x="443.00" y="261.40" text-anchor="middle">0</text><text class="tk" x="439.40" y="253.40" text-anchor="end">0</text><text class="tk" x="463.10" y="261.40" text-anchor="middle">1</text><text class="tk" x="439.40" y="232.92" text-anchor="end">1</text><text class="tk" x="483.20" y="261.40" text-anchor="middle">2</text><text class="tk" x="439.40" y="212.44" text-anchor="end">2</text><text class="tk" x="503.30" y="261.40" text-anchor="middle">3</text><text class="tk" x="439.40" y="191.96" text-anchor="end">3</text><text class="tk" x="523.40" y="261.40" text-anchor="middle">4</text><text class="tk" x="439.40" y="171.48" text-anchor="end">4</text><text class="tk" x="543.50" y="261.40" text-anchor="middle">5</text><text class="tk" x="439.40" y="151.00" text-anchor="end">5</text><text class="an" x="445.90" y="161.10">(h)&#160; (1500m)</text><text class="an" x="445.90" y="171.90">y = 1.02x − 0.10</text><text class="an" x="445.90" y="184.20">R<tspan dx="0.5" dy="-3.8" font-size="6.4">2</tspan><tspan dy="3.8"> = 1.00</tspan></text><text class="an" x="445.90" y="193.50">RMSE = 0.05</text><text class="an" x="445.90" y="202.60">Bias = −0.05</text><text class="lb" x="492.95" y="272.50" text-anchor="middle" font-size="8.9">LAI<tspan dy="4.2" font-size="6.6">esa</tspan></text><text class="lb2" transform="translate(427.40,198.70) rotate(-90) scale(0.1)" text-anchor="middle" font-size="90">LAI<tspan dx="6" dy="35" font-size="60">cor</tspan></text></g>
</svg></body></html>
